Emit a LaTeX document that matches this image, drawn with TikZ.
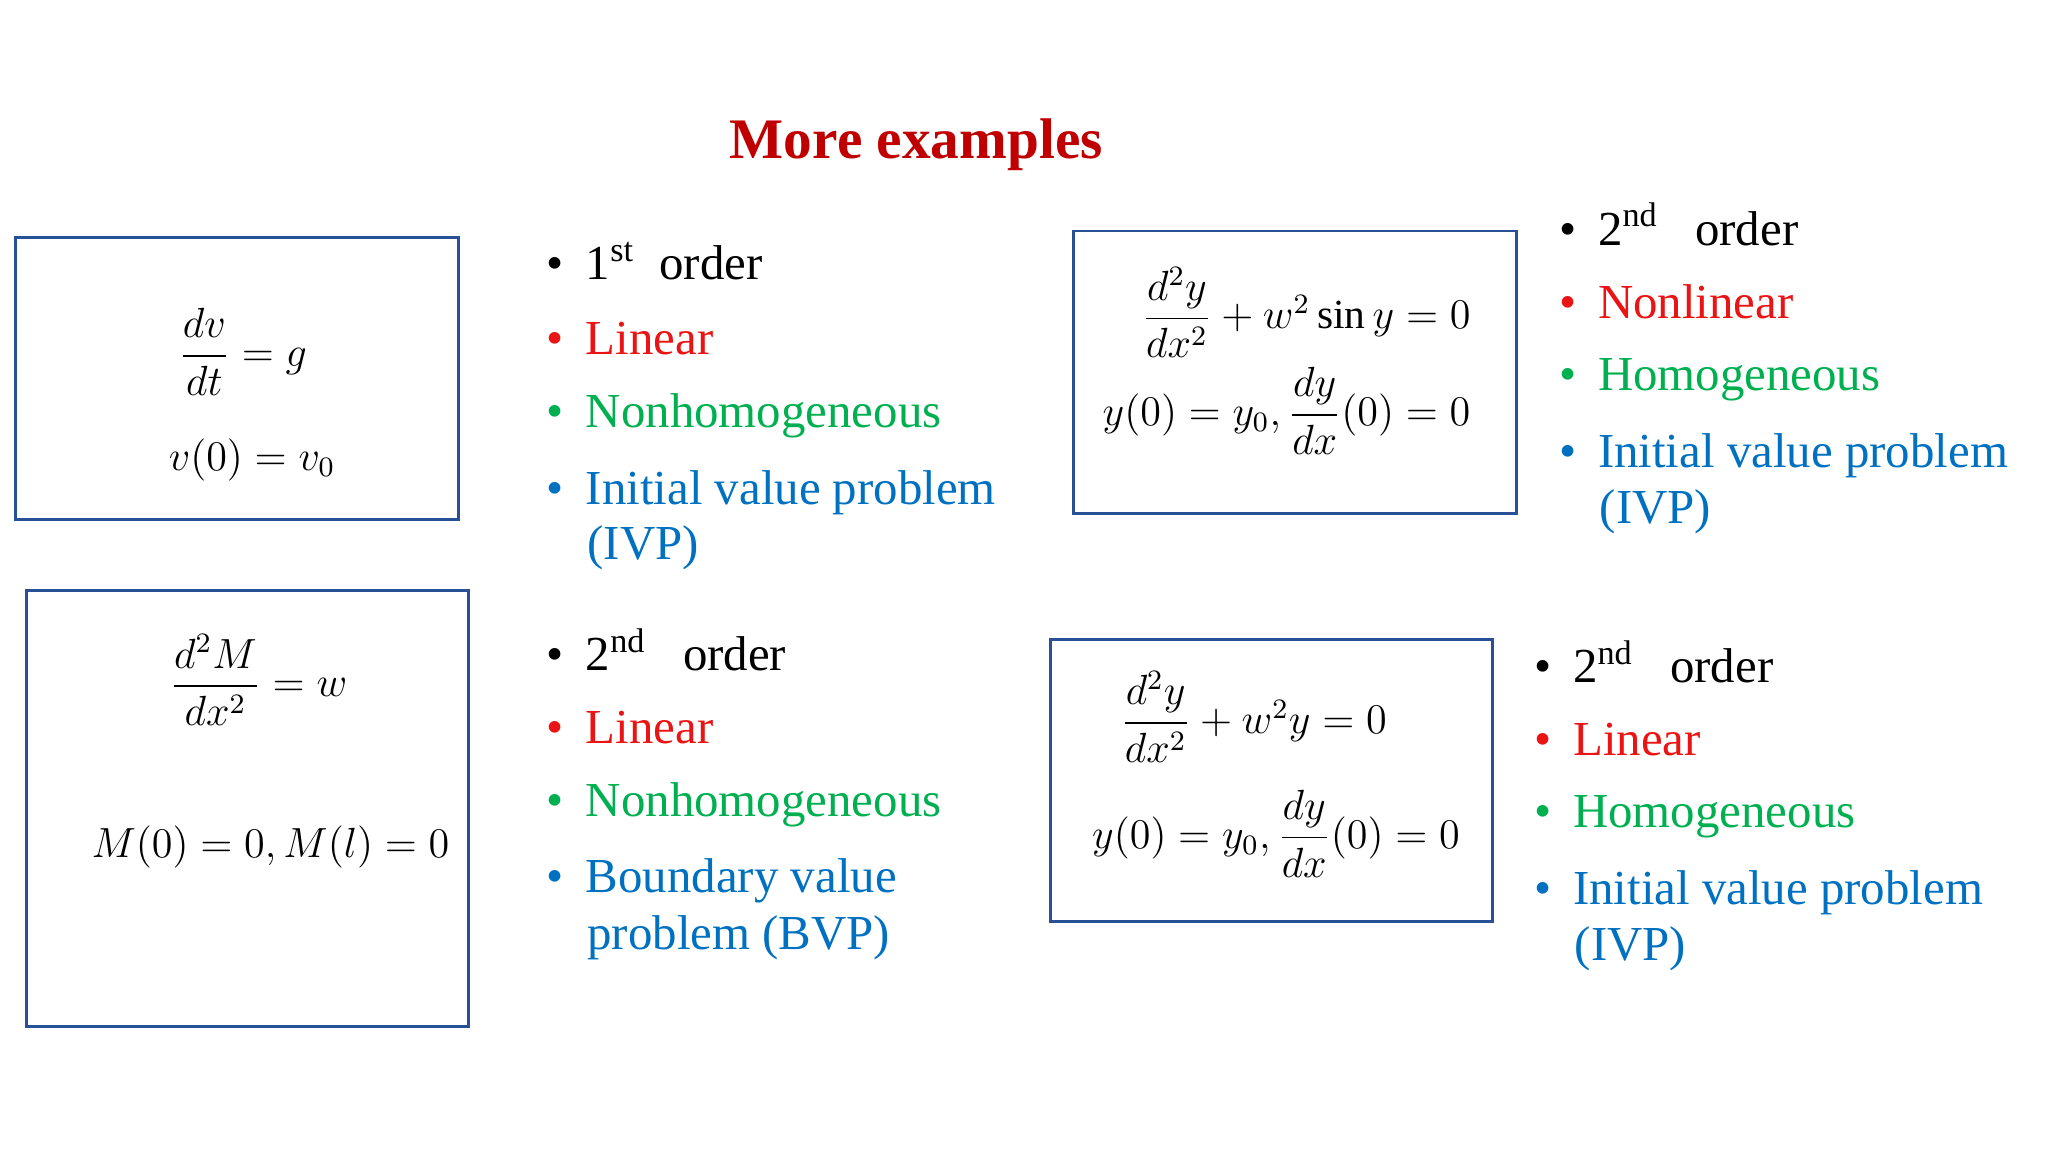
\documentclass[tikz,border=0pt]{standalone}
\usepackage{amsmath}
\usepackage{fontspec}
\setmainfont{Liberation Serif}
\definecolor{tred}{RGB}{192,0,0}
\definecolor{bred}{RGB}{235,20,20}
\definecolor{bgreen}{RGB}{0,176,80}
\definecolor{bblue}{RGB}{0,112,192}
\definecolor{boxc}{RGB}{40,80,150}
\begin{document}
\begin{tikzpicture}[x=0.013128cm,y=-0.013128cm,
  eqbox/.style={draw=boxc,line width=0.8pt},
  bl/.style={anchor=west,inner sep=0pt,font=\fontsize{13.9}{16}\selectfont},
  eq/.style={inner sep=0pt,font=\fontsize{11.8}{14}\selectfont}]
\useasboundingbox (0,0) rectangle (1560,877.5);
\node[font=\fontsize{16.3}{19}\bfseries\selectfont,text=tred] (title) at (698,110) {More examples};
% boxes
\draw[eqbox] (12,181) rectangle (349,396);
\draw[eqbox] (20,450) rectangle (357,782);
\draw[eqbox] (818,176) rectangle (1155,391);
\draw[eqbox] (800,487) rectangle (1137,702);
% equations
\node[eq] (e1a) at (185,268) {$\dfrac{dv}{dt}=g$};
\node[eq] (e1b) at (192,350) {$v(0)=v_0$};
\node[eq] (e2a) at (197,518) {$\dfrac{d^2M}{dx^2}=w$};
\node[eq] (e2b) at (206,645) {$M(0)=0, M(l)=0$};
\node[eq] (e3a) at (995,238) {$\dfrac{d^2y}{dx^2}+w^2\sin y=0$};
\node[eq] (e3b) at (980,313) {$y(0)=y_0,\dfrac{dy}{dx}(0)=0$};
\node[eq] (e4a) at (955,546) {$\dfrac{d^2y}{dx^2}+w^2y=0$};
\node[eq] (e4b) at (972,635) {$y(0)=y_0,\dfrac{dy}{dx}(0)=0$};
% list 1
\node[bl] (a1) at (416,199) {•\hspace{0.45em}1\textsuperscript{st}\ \ order};
\node[bl,text=bred] (a2) at (416,258) {•\hspace{0.45em}Linear};
\node[bl,text=bgreen] (a3) at (416,317) {•\hspace{0.45em}Nonhomogeneous};
\node[bl,text=bblue] (a4) at (416,375) {•\hspace{0.45em}Initial value problem};
\node[bl,text=bblue] (a5) at (447,417) {(IVP)};
% list 2
\node[bl] (b1) at (416,495) {•\hspace{0.45em}2\textsuperscript{nd}\ \ \ order};
\node[bl,text=bred] (b2) at (416,554) {•\hspace{0.45em}Linear};
\node[bl,text=bgreen] (b3) at (416,613) {•\hspace{0.45em}Nonhomogeneous};
\node[bl,text=bblue] (b4) at (416,671) {•\hspace{0.45em}Boundary value};
\node[bl,text=bblue] (b5) at (447,714) {problem (BVP)};
% list 3
\node[bl] (c1) at (1187,171) {•\hspace{0.45em}2\textsuperscript{nd}\ \ \ order};
\node[bl,text=bred] (c2) at (1187,230) {•\hspace{0.45em}Nonlinear};
\node[bl,text=bgreen] (c3) at (1187,289) {•\hspace{0.45em}Homogeneous};
\node[bl,text=bblue] (c4) at (1187,347) {•\hspace{0.45em}Initial value problem};
\node[bl,text=bblue] (c5) at (1218,390) {(IVP)};
% list 4
\node[bl] (d1) at (1168,504) {•\hspace{0.45em}2\textsuperscript{nd}\ \ \ order};
\node[bl,text=bred] (d2) at (1168,563) {•\hspace{0.45em}Linear};
\node[bl,text=bgreen] (d3) at (1168,622) {•\hspace{0.45em}Homogeneous};
\node[bl,text=bblue] (d4) at (1168,680) {•\hspace{0.45em}Initial value problem};
\node[bl,text=bblue] (d5) at (1199,723) {(IVP)};
\end{tikzpicture}
\end{document}
